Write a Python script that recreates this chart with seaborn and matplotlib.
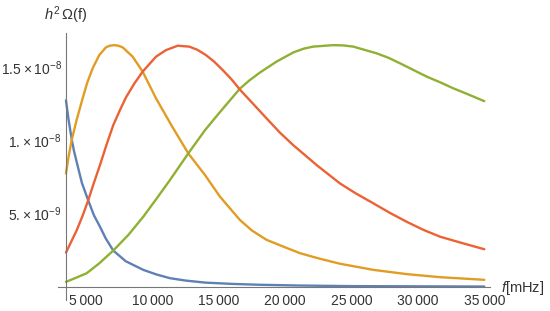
# h^2 Omega(f) spectra, Mathematica-style look
import matplotlib
matplotlib.use("Agg")
import matplotlib.pyplot as plt
from matplotlib.ticker import MultipleLocator, FixedLocator, FuncFormatter
import seaborn as sns

# values (f in mHz, Omega in units of 1e-9)
f_blue = [3500, 3700, 3930, 4100, 4330, 4700, 5180, 5600, 6060, 6500, 7060, 8000,
          9320, 10300, 11330, 12500, 13970, 16000, 18110, 21000, 24890, 28000, 35000]
om_blue = [12.75, 11.4, 10.1, 9.3, 8.45, 7.1, 5.9, 4.9, 4.11, 3.3, 2.48, 1.75,
           1.16, 0.85, 0.59, 0.43, 0.29, 0.2, 0.14, 0.09, 0.05, 0.04, 0.02]

f_orange = [3500, 3700, 3930, 4300, 4758, 5100, 5510, 6007, 6512, 6800, 7137, 7450,
            7770, 8523, 9275, 10277, 11500, 12710, 13970, 15100, 16600, 17500,
            18610, 20000, 21120, 22500, 24130, 26640, 29150, 31660, 35000]
om_orange = [7.75, 8.9, 10.03, 11.4, 12.89, 13.95, 14.94, 15.84, 16.37, 16.48, 16.52, 16.48,
             16.37, 15.73, 14.71, 12.89, 10.95, 9.12, 7.64, 6.16, 4.57, 3.85,
             3.21, 2.7, 2.3, 1.95, 1.58, 1.16, 0.87, 0.66, 0.48]

f_green = [3500, 4200, 5060, 6000, 7060, 8200, 9320, 10300, 11330, 12710, 13970, 15100,
           16600, 17300, 18108, 19366, 20616, 21400, 22122, 23627, 24400, 25133,
           26896, 27800, 28650, 30661, 31700, 32664, 33800, 35000]
om_green = [0.34, 0.6, 0.93, 1.6, 2.48, 3.55, 4.79, 6.0, 7.30, 9.12, 10.71, 11.95,
            13.55, 14.1, 14.65, 15.4, 16.02, 16.28, 16.42, 16.52, 16.5, 16.42,
            15.96, 15.65, 15.28, 14.37, 13.97, 13.57, 13.15, 12.69]

f_red = [3500, 4300, 4750, 5180, 5600, 6060, 6550, 7060, 7550, 8018, 8650, 9275,
         10277, 11030, 11911, 12784, 13400, 14042, 14650, 15300, 15950, 16600,
         17600, 18610, 19600, 20620, 21500, 22380, 24130, 25300, 26640, 27900,
         29150, 30400, 31660, 33300, 35000]
om_red = [2.34, 3.85, 4.85, 5.93, 7.1, 8.32, 9.7, 11.05, 12.05, 12.95, 13.9, 14.71,
          15.73, 16.18, 16.48, 16.42, 16.2, 15.84, 15.4, 14.82, 14.2, 13.48,
          12.5, 11.51, 10.55, 9.68, 9.0, 8.32, 7.07, 6.4, 5.71, 5.05,
          4.45, 3.9, 3.43, 3.0, 2.57]

x_ticks = [5000, 10000, 15000, 20000, 25000, 30000, 35000]
y_ticks = [5e-9, 1e-8, 1.5e-8]
y_tick_labels = ["5.\u2009\u00d7\u200910$^{-9}$", "1.\u2009\u00d7\u200910$^{-8}$",
                 "1.5\u2009\u00d7\u200910$^{-8}$"]

sns.set_style("white")
plt.rcParams['font.family'] = ['Liberation Sans', 'DejaVu Sans']
plt.rcParams['mathtext.fontset'] = 'custom'
plt.rcParams['mathtext.rm'] = 'Liberation Sans'
plt.rcParams['mathtext.it'] = 'Liberation Sans:italic'

fig = plt.figure(figsize=(5.5, 3.11), dpi=100)
ax = fig.add_axes([58 / 550, 11 / 311, 432 / 550, 267 / 311])

series = [(f_blue, om_blue, "#5E81B5"),
          (f_orange, om_orange, "#E19C24"),
          (f_green, om_green, "#8FB032"),
          (f_red, om_red, "#EB6235")]
for fx, om, col in series:
    sns.lineplot(x=fx, y=[v * 1e-9 for v in om], ax=ax, color=col, lw=1.7)

ax.set_xlim(2900, 35430)
ax.set_ylim(-0.9e-9, 17.35e-9)

# axes crossing at (3500, 0)
axis_col = "#777777"
for s in ["top", "right"]:
    ax.spines[s].set_visible(False)
ax.spines["left"].set_position(("data", 3500))
ax.spines["bottom"].set_position(("data", 0))
for s in ["left", "bottom"]:
    ax.spines[s].set_color(axis_col)
    ax.spines[s].set_linewidth(0.8)

ax.xaxis.set_major_locator(FixedLocator(x_ticks))
ax.xaxis.set_minor_locator(MultipleLocator(1000))
ax.yaxis.set_major_locator(FixedLocator(y_ticks))
ax.yaxis.set_minor_locator(MultipleLocator(1e-9))
ax.xaxis.set_major_formatter(FuncFormatter(
    lambda v, p: f"{int(v):,}".replace(",", "\u2009")))
ax.set_yticklabels(y_tick_labels)

ax.tick_params(which="both", direction="in", color=axis_col, width=0.8,
               labelsize=10, labelcolor="#333333")
ax.tick_params(which="major", length=4.5)
ax.tick_params(which="minor", length=2.5)
ax.tick_params(axis="x", pad=5)
ax.tick_params(axis="y", pad=3)
ax.set_xlabel("")
ax.set_ylabel("")

fig.text(66 / 550, 1 - 15 / 311, r"$h^2\,\Omega$(f)", ha="center", va="center",
         fontsize=10.5, color="#333333")
fig.text(501 / 550, 1 - 288 / 311, r"$f$[mHz]", ha="left", va="center",
         fontsize=10.5, color="#333333")

fig.savefig("out.png", dpi=100)
